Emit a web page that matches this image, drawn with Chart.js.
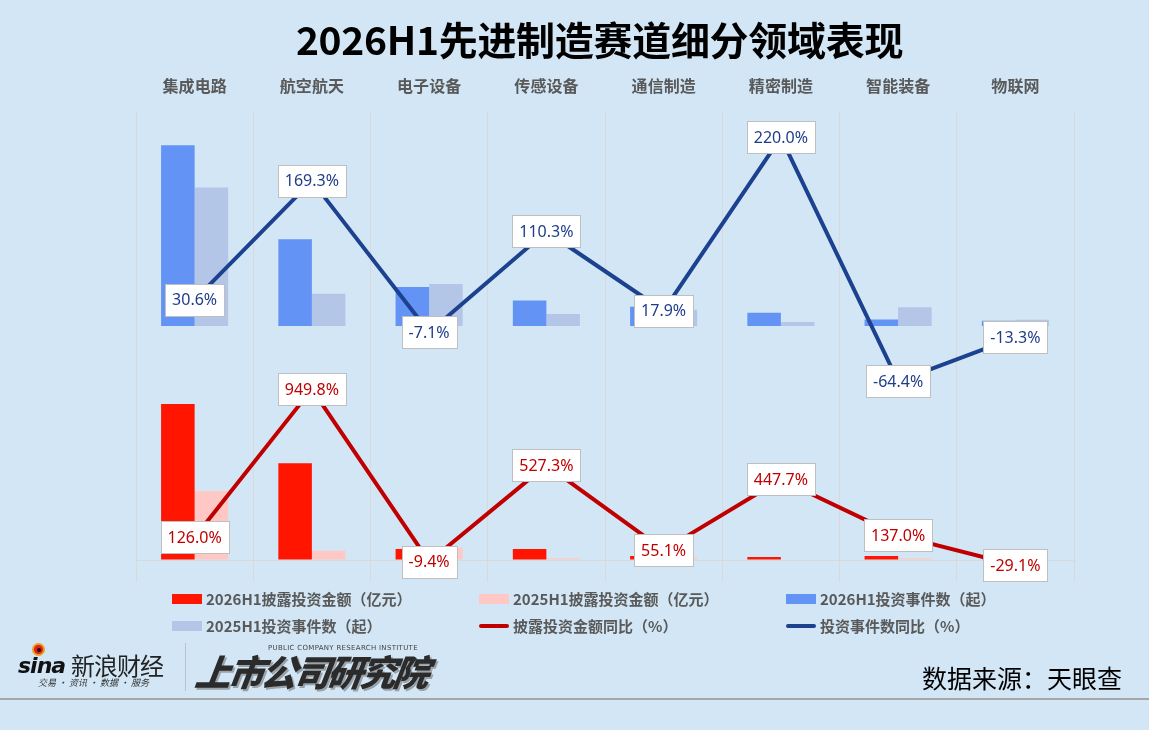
<!DOCTYPE html>
<html><head><meta charset="utf-8">
<script src="https://cdn.jsdelivr.net/npm/chart.js@4.4.1/dist/chart.umd.min.js"></script>
<style>
html,body{margin:0;padding:0;background:#d2e6f5;width:1149px;height:730px;overflow:hidden;font-family:"Noto Sans CJK SC","Noto Sans",sans-serif;}
#c{position:absolute;left:0;top:0;}
#title{position:absolute;top:11px;left:25px;width:1149px;text-align:center;font-size:39px;font-weight:700;color:#000;line-height:54px;letter-spacing:-0.3px;}
.leg{position:absolute;font-size:15px;font-weight:700;color:#595959;line-height:20px;white-space:nowrap;}
.sw{position:absolute;width:30px;height:10px;}
.ln{position:absolute;width:30px;height:4px;border-radius:2px;}
#src{position:absolute;left:922px;top:660px;font-size:25px;color:#000;line-height:34px;white-space:nowrap;}
#hr{position:absolute;left:0;top:698px;width:1149px;height:2px;background:#a6a6a6;}
#sep{position:absolute;left:185px;top:643px;width:1px;height:48px;background:#b9c4cc;}
#sina{position:absolute;left:18px;top:654px;font-family:"DejaVu Sans",sans-serif;font-size:22px;font-weight:700;font-style:italic;color:#111;letter-spacing:-1px;line-height:24px;}
#eye{position:absolute;left:32px;top:643px;width:13px;height:13px;border-radius:50%;background:#e0201a;border:2px solid #f29a1f;box-sizing:border-box;}
#eye::after{content:"";position:absolute;left:3px;top:3px;width:4px;height:4px;border-radius:50%;background:#111;}
#xlcj{position:absolute;left:71px;top:650px;font-size:24px;color:#222;line-height:30px;letter-spacing:-1px;}
#jy{position:absolute;left:38px;top:677px;font-size:9px;color:#333;line-height:12px;white-space:nowrap;font-style:italic;}
#pc{position:absolute;left:268px;top:644px;font-size:7px;color:#444;font-family:"DejaVu Sans",sans-serif;letter-spacing:0.3px;white-space:nowrap;}
#ssy{position:absolute;left:196px;top:646px;font-size:36px;font-weight:900;font-style:italic;color:#2b2b2b;line-height:48px;letter-spacing:-3px;text-shadow:2px 2px 0 #9aa3aa;transform:skewX(-8deg);}
</style></head>
<body>
<canvas id="c" width="1149" height="730"></canvas>
<div id="title">2026H1先进制造赛道细分领域表现</div>

<div class="sw" style="left:172px;top:594px;background:#ff1500"></div>
<div class="leg" style="left:206px;top:589px">2026H1披露投资金额（亿元）</div>
<div class="sw" style="left:479px;top:594px;background:#ffc8c4"></div>
<div class="leg" style="left:513px;top:589px">2025H1披露投资金额（亿元）</div>
<div class="sw" style="left:786px;top:594px;background:#6393f4"></div>
<div class="leg" style="left:820px;top:589px">2026H1投资事件数（起）</div>
<div class="sw" style="left:172px;top:621px;background:#b4c6e7"></div>
<div class="leg" style="left:206px;top:616px">2025H1投资事件数（起）</div>
<div class="ln" style="left:479px;top:624px;background:#c00000"></div>
<div class="leg" style="left:513px;top:616px">披露投资金额同比（%）</div>
<div class="ln" style="left:786px;top:624px;background:#1c418f"></div>
<div class="leg" style="left:820px;top:616px">投资事件数同比（%）</div>

<div id="eye"></div>
<div id="sina">sina</div>
<div id="xlcj">新浪财经</div>
<div id="jy">交易 · 资讯 · 数据 · 服务</div>
<div id="sep"></div>
<div id="pc">PUBLIC COMPANY RESEARCH INSTITUTE</div>
<div id="ssy">上市公司研究院</div>
<div id="src">数据来源：天眼查</div>
<div id="hr"></div>

<script>
const categories = ['集成电路','航空航天','电子设备','传感设备','通信制造','精密制造','智能装备','物联网'];
const amount2026 = [520, 323, 36.7, 36.7, 13.3, 10.0, 13.3, 1.2];
const amount2025 = [230, 30.8, 40.5, 5.85, 8.6, 1.83, 5.6, 1.7];
const events2026 = [431, 207, 93, 61, 46, 32, 16, 13];
const events2025 = [330, 77, 100, 29, 39, 10, 45, 15];
const amountYoY = [126.0, 949.8, -9.4, 527.3, 55.1, 447.7, 137.0, -29.1];
const eventsYoY = [30.6, 169.3, -7.1, 110.3, 17.9, 220.0, -64.4, -13.3];

const boxLabels = {
  id: 'boxLabels',
  afterDatasetsDraw(chart) {
    const ctx = chart.ctx;
    chart.data.datasets.forEach((ds, i) => {
      if (!ds.labelColor) return;
      const meta = chart.getDatasetMeta(i);
      meta.data.forEach((pt, j) => {
        const txt = ds.data[j].toFixed(1) + '%';
        ctx.save();
        ctx.font = '16px "Noto Sans", sans-serif';
        const w = Math.round(ctx.measureText(txt).width + 14);
        const h = 32;
        const x = Math.round(pt.x - w / 2) + 0.5, y = Math.round(pt.y - h / 2) + 0.5;
        ctx.fillStyle = '#ffffff';
        ctx.fillRect(x, y, w, h);
        ctx.strokeStyle = '#bfbfbf';
        ctx.lineWidth = 1;
        ctx.strokeRect(x, y, w, h);
        ctx.fillStyle = ds.labelColor;
        ctx.textAlign = 'center';
        ctx.textBaseline = 'middle';
        ctx.fillText(txt, pt.x, pt.y + 1);
        ctx.restore();
      });
    });
  }
};

new Chart(document.getElementById('c'), {
  type: 'bar',
  data: {
    labels: categories,
    datasets: [
      {label:'2026H1披露投资金额（亿元）', data: amount2026, backgroundColor:'#ff1500', yAxisID:'yAmt', stack:'s26', order:2},
      {label:'2026H1投资事件数（起）', data: events2026, backgroundColor:'#6393f4', yAxisID:'yEv', stack:'s26', order:2},
      {label:'2025H1披露投资金额（亿元）', data: amount2025, backgroundColor:'#ffc8c4', yAxisID:'yAmt', stack:'s25', order:2},
      {label:'2025H1投资事件数（起）', data: events2025, backgroundColor:'#b4c6e7', yAxisID:'yEv', stack:'s25', order:2},
      {type:'line', label:'披露投资金额同比（%）', data: amountYoY, borderColor:'#c00000', borderWidth:4, pointRadius:0, tension:0, yAxisID:'yAmtP', order:1, labelColor:'#c00000', borderJoinStyle:'round'},
      {type:'line', label:'投资事件数同比（%）', data: eventsYoY, borderColor:'#1c418f', borderWidth:4, pointRadius:0, tension:0, yAxisID:'yEvP', order:1, labelColor:'#1f3d8a', borderJoinStyle:'round'}
    ]
  },
  options: {
    responsive: false,
    devicePixelRatio: 1,
    animation: false,
    events: [],
    layout: {padding: {left:136, right:75, top:59, bottom:148}},
    datasets: {bar: {barPercentage: 1.0, categoryPercentage: 0.572}},
    plugins: {legend: {display:false}, title: {display:false}, tooltip: {enabled:false}},
    scales: {
      x: {
        position: 'top', offset: true,
        grid: {color:'#d9d9d9', lineWidth:1, drawTicks:false, offset:true},
        border: {display:false},
        ticks: {color:'#595959', padding:17, font:{family:'"Noto Sans CJK SC", sans-serif', size:16, weight:'bold'}}
      },
      yAmt: {
        display: true, position: 'left', min: -73.3, max: 1493.3,
        ticks: {display:false}, grid: {color:'#d9d9d9', lineWidth:1, drawTicks:false},
        border: {display:false},
        afterBuildTicks: s => { s.ticks = [{value: 0}]; }
      },
      yEv: {display:false, min:-609.5, max:509.5},
      yEvP: {display:false, min:-298.4, max:249.4},
      yAmtP: {display:false, min:-122.2, max:2488.9}
    }
  },
  plugins: [boxLabels]
});
</script>
</body></html>
